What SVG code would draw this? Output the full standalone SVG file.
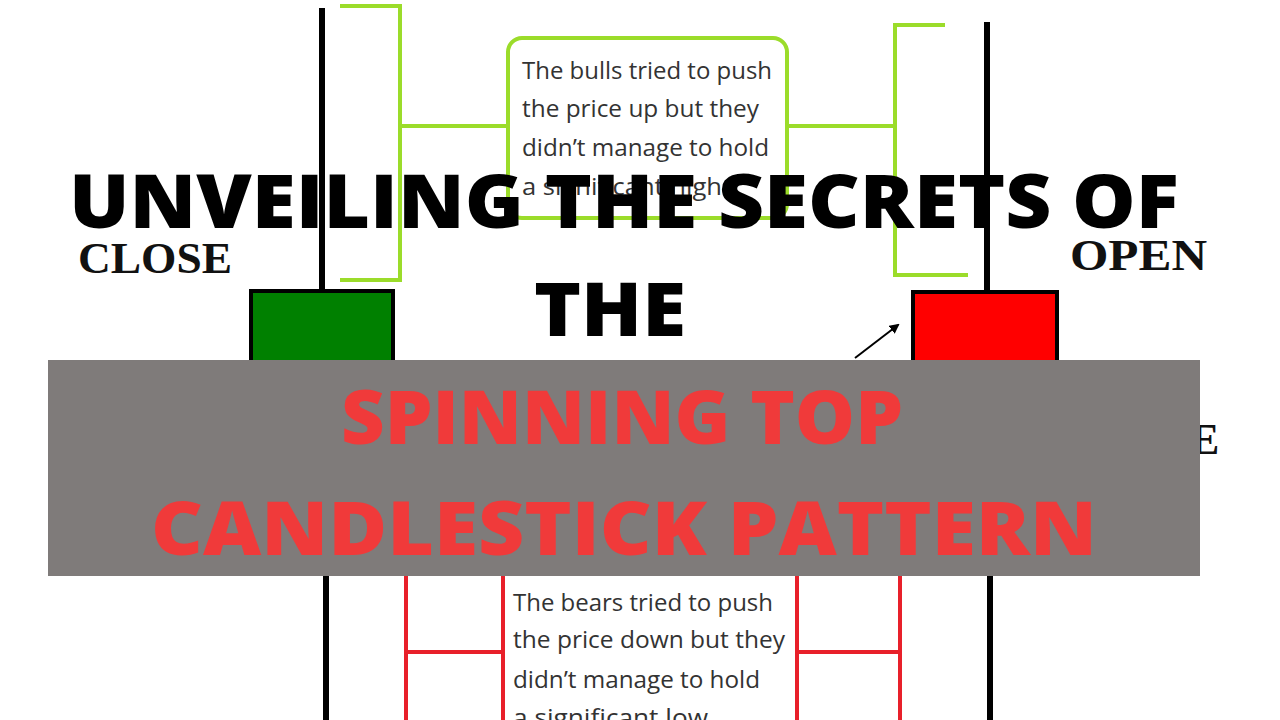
<svg xmlns="http://www.w3.org/2000/svg" width="1280" height="720" viewBox="0 0 1280 720">
<style>
.wick{stroke:#000;stroke-width:6}
.g{stroke:#9bdc2a;stroke-width:4;fill:none}
.r{stroke:#e8202a;stroke-width:4;fill:none}
.note{font-family:"Open Sans","DejaVu Sans",sans-serif;font-size:23px;fill:#333}
.serif{font-family:"Liberation Serif",serif;font-weight:bold;font-size:44px;fill:#111}
.title{font-family:"Open Sans","DejaVu Sans",sans-serif;font-weight:800;font-size:74px}
</style>
<defs><marker id="ah" markerWidth="10" markerHeight="10" refX="8" refY="5" orient="auto" markerUnits="userSpaceOnUse"><path d="M0,0 L10,5 L0,10 z" fill="#000"/></marker></defs>
<rect width="1280" height="720" fill="#fff"/>
<g id="connectors">
<line class="wick" x1="322" y1="8" x2="322" y2="292"/>
<line class="wick" x1="987" y1="22" x2="987" y2="292"/>
<line class="wick" x1="326" y1="575" x2="326" y2="720"/>
<line class="wick" x1="990" y1="575" x2="990" y2="720"/>
<path class="g" d="M340,6 H400 V280 H340 M400,126 H508"/>
<path class="g" d="M945,25 H895 V275 H968 M787,126 H895"/>
<path class="r" d="M406,576 V720 M406,652 H503 M900,576 V720 M797,652 H900"/>
<line x1="855" y1="358" x2="898" y2="325" stroke="#000" stroke-width="2" marker-end="url(#ah)"/>
</g>
<g id="bulls-note">
<rect x="508" y="38" width="279" height="180" rx="14" fill="#fff" stroke="#9bdc2a" stroke-width="4"/>
<text class="note" x="522" y="79" textLength="250" lengthAdjust="spacingAndGlyphs">The bulls tried to push</text>
<text class="note" x="522" y="117" textLength="237" lengthAdjust="spacingAndGlyphs">the price up but they</text>
<text class="note" x="522" y="156" textLength="247" lengthAdjust="spacingAndGlyphs">didn’t manage to hold</text>
<text class="note" x="522" y="195" textLength="200" lengthAdjust="spacingAndGlyphs">a significant high</text>
</g>
<g id="bears-note">
<rect x="503" y="560" width="294" height="180" fill="#fff" stroke="#e8202a" stroke-width="4"/>
<text class="note" x="513" y="611" textLength="260" lengthAdjust="spacingAndGlyphs">The bears tried to push</text>
<text class="note" x="513" y="648" textLength="272" lengthAdjust="spacingAndGlyphs">the price down but they</text>
<text class="note" x="513" y="688" textLength="247" lengthAdjust="spacingAndGlyphs">didn’t manage to hold</text>
<text class="note" x="513" y="726" textLength="195" lengthAdjust="spacingAndGlyphs">a significant low</text>
</g>
<g id="green-candle"><rect x="251" y="291" width="142" height="90" fill="#008000" stroke="#000" stroke-width="4"/></g>
<g id="red-candle"><rect x="913" y="292" width="144" height="90" fill="#ff0000" stroke="#000" stroke-width="4"/></g>
<text class="serif" x="78" y="273" textLength="154" lengthAdjust="spacingAndGlyphs">CLOSE</text>
<text class="serif" x="1070" y="270" textLength="137" lengthAdjust="spacingAndGlyphs">OPEN</text>
<text class="serif" x="1190" y="454">E</text>
<text class="title" x="624" y="228" text-anchor="middle" fill="#000" textLength="1110" lengthAdjust="spacingAndGlyphs">UNVEILING THE SECRETS OF</text>
<text class="title" x="610" y="336" text-anchor="middle" fill="#000" textLength="152" lengthAdjust="spacingAndGlyphs">THE</text>
<rect x="48" y="360" width="1152" height="216" fill="#7f7b7a"/>
<text class="title" x="622" y="444" text-anchor="middle" fill="#f03a3a" textLength="562" lengthAdjust="spacingAndGlyphs">SPINNING TOP</text>
<text class="title" x="624" y="555" text-anchor="middle" fill="#f03a3a" textLength="946" lengthAdjust="spacingAndGlyphs">CANDLESTICK PATTERN</text>
</svg>
